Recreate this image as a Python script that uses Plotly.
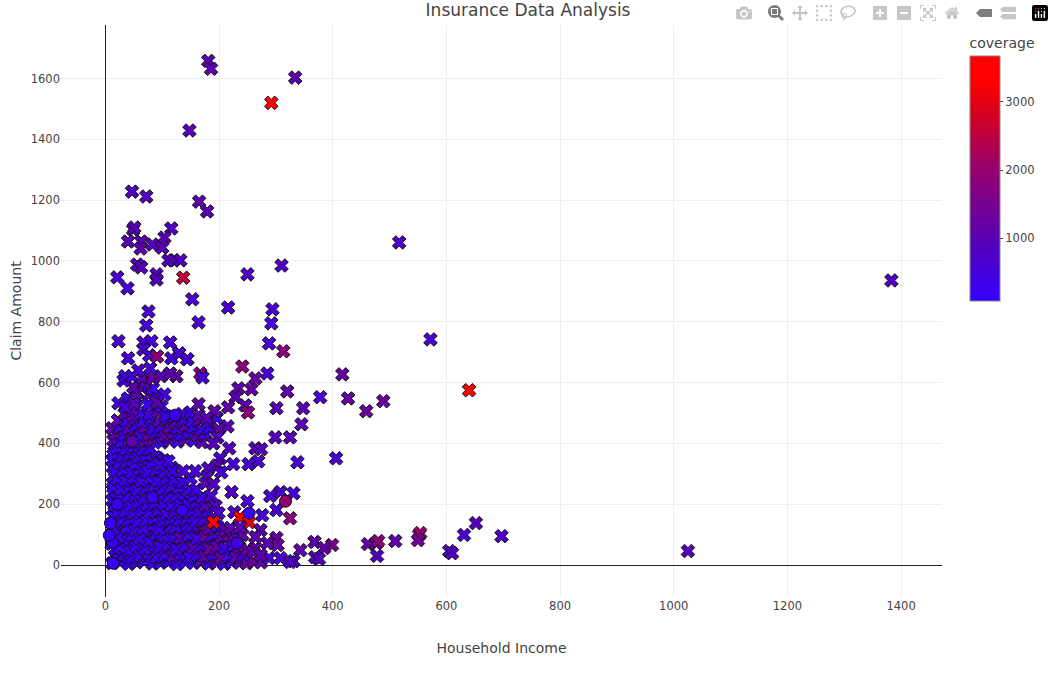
import plotly.graph_objects as go

# fraud = yes, drawn as x
income_x = [
    # fill of the dense corner
    20,34,48,62,77,91,105,120,134,149,
    163,177,191,205,218,30,44,59,73,88,
    102,116,131,145,160,174,188,11,24,38,
    52,67,81,95,109,124,138,153,167,181,
    195,13,27,41,56,70,84,98,113,127,
    141,156,170,184,198,16,31,45,60,74,
    88,103,117,132,146,161,175,189,13,26,
    40,55,69,84,98,113,127,142,156,170,
    21,36,50,65,79,94,108,122,137,151,
    12,26,41,55,70,84,99,113,128,142,
    157,19,33,48,62,77,91,106,120,135,
    149,13,27,42,56,71,85,100,114,129,
    24,38,53,67,82,96,13,27,42,56,
    71,85,100,19,34,48,63,77,92,16,
    30,45,59,74,88,103,52,84,117,12,
    # lower block
    12,26,41,55,68,83,97,112,126,141,
    155,168,182,196,209,222,236,248,261,274,
    18,33,47,61,76,90,104,119,133,148,
    162,175,189,203,216,230,243,17,39,82,
    25,54,69,96,110,125,140,154,169,183,
    197,210,224,236,250,264,13,31,75,118,
    22,46,60,89,103,132,146,161,176,190,
    204,218,232,15,37,52,80,111,139,168,
    66,95,124,153,182,197,211,28,43,57,
    72,86,101,115,130,144,159,173,188,20,
    35,49,64,78,93,107,122,136,151,165,
    180,16,30,44,58,73,87,102,116,131,
    145,160,175,24,39,53,68,82,97,111,
    126,140,155,170,14,28,43,57,72,86,
    101,115,130,145,160,20,35,49,63,78,
    92,107,121,136,150,17,31,46,60,75,
    89,104,118,24,38,53,67,82,96,111,
    14,29,43,58,72,20,36,50,65,79,
    # upper block
    14,28,42,56,70,85,99,113,127,141,
    156,170,18,33,47,61,76,90,104,119,
    133,148,162,176,12,26,40,54,68,83,
    97,111,126,140,155,169,183,22,37,51,
    65,80,94,108,123,137,152,166,180,34,
    48,63,77,92,106,121,135,150,164,196,
    56,77,62,40,84,69,90,75,47,99,
    23,35,51,91,104,55,49,32,35,47,
    # sparse points
    65,83,98,58,79,125,130,144,116,114,
    181,186,334,292,148,165,179,47,72,517,
    49,51,116,40,63,62,83,104,100,111,
    120,132,56,63,90,90,21,39,137,250,
    310,153,76,72,164,216,294,292,23,67,
    81,114,288,313,67,77,91,130,144,40,
    241,264,285,417,167,171,572,234,257,320,
    378,427,229,301,348,216,246,251,192,164,
    178,345,215,199,299,325,197,190,218,264,
    274,406,338,269,252,225,202,197,204,181,
    179,176,190,158,137,222,186,290,308,331,
    250,194,199,301,276,325,227,190,237,253,
    399,368,385,369,376,343,301,303,285,331,
    325,288,308,273,264,241,220,237,260,273,
    478,462,477,480,510,552,554,550,605,610,
    631,652,697,1025,1383,640,459,489,
]
claim_x = [
    18,20,16,22,19,17,21,15,20,18,
    19,16,21,17,20,42,44,40,46,41,
    43,45,40,46,41,44,42,70,72,75,
    71,74,70,76,72,75,69,73,77,71,
    74,105,108,103,110,106,101,109,104,107,
    102,110,105,108,103,133,137,130,135,139,
    132,136,131,138,134,129,137,133,160,163,
    158,162,165,159,164,157,161,166,160,163,
    188,186,190,185,189,187,184,191,186,188,
    213,216,211,218,214,210,217,212,215,213,
    210,240,243,238,245,241,237,244,239,242,
    238,268,265,270,263,269,266,271,264,267,
    295,298,293,300,296,292,322,325,320,327,
    323,319,326,350,347,352,345,349,351,372,
    370,374,368,373,355,345,385,335,320,345,
    6,11,4,9,14,5,8,12,3,10,
    7,13,5,9,4,11,8,6,12,9,
    28,34,24,31,37,26,33,29,36,25,
    32,27,35,24,30,26,34,52,48,55,
    58,62,53,60,66,51,63,57,64,52,
    60,55,63,58,50,56,80,84,78,88,
    92,96,88,102,94,90,98,87,95,100,
    93,97,90,118,122,115,126,119,124,128,
    120,117,125,130,118,127,114,146,150,142,
    148,153,144,151,147,155,143,149,152,172,
    176,170,178,173,180,168,175,171,179,174,
    177,198,202,195,205,197,204,200,196,203,
    199,206,194,228,224,232,221,230,226,223,
    229,233,225,222,255,250,258,247,253,260,
    249,256,252,245,248,282,278,286,275,284,
    277,283,280,272,285,308,312,304,315,306,
    311,305,309,335,340,332,343,337,330,341,
    362,358,365,355,360,385,380,388,378,383,
    410,405,412,402,408,415,403,410,406,413,
    409,404,432,428,435,425,430,437,426,433,
    429,436,427,431,450,455,448,458,452,447,
    456,451,449,457,453,446,452,476,472,480,
    470,478,474,481,469,477,473,479,471,498,
    492,500,495,505,490,488,497,502,493,484,
    545,560,590,548,580,600,545,528,510,522,
    532,519,532,535,561,565,585,607,621,621,
    617,614,621,640,647,621,696,677,680,630,
    1658,1632,1603,1520,1429,1195,1163,1228,1212,1061,
    1103,1110,1107,1064,1064,1041,1054,1077,1044,1002,
    1002,1002,988,979,956,939,946,910,945,956,
    985,874,834,788,798,847,841,795,736,732,
    736,732,729,703,709,690,686,696,677,680,
    653,614,630,627,630,617,742,581,578,571,
    552,548,552,516,516,519,525,502,506,529,
    483,463,456,447,420,420,420,400,384,384,
    381,351,338,341,332,332,351,328,305,318,
    289,269,266,309,309,240,227,227,240,236,
    210,194,171,181,164,154,174,141,157,141,
    66,76,56,26,20,49,89,66,72,13,
    10,23,23,115,92,99,122,125,43,33,
    30,69,72,79,79,99,105,82,46,39,
    99,138,95,46,936,575,506,539,
]
coverage_x = [
    210,280,190,340,250,300,220,380,260,310,
    240,330,200,290,360,230,270,320,190,350,
    260,220,310,280,400,340,520,180,240,210,
    300,260,340,220,280,350,240,410,310,620,
    480,170,230,260,200,310,240,280,330,220,
    290,360,420,560,480,190,250,220,300,260,
    330,240,280,350,300,420,520,640,180,230,
    270,210,300,240,330,260,290,340,380,460,
    200,250,310,230,280,220,330,260,300,360,
    180,230,280,210,260,320,240,300,270,340,
    390,200,250,220,310,270,230,340,280,300,
    360,180,240,290,220,260,310,230,280,340,
    210,260,230,300,250,320,190,240,280,220,
    300,260,340,200,250,310,230,280,330,210,
    240,290,220,270,320,380,250,300,360,190,
    180,260,220,300,240,340,280,210,320,260,
    300,880,240,1050,360,420,1000,1180,1240,1080,
    200,250,310,260,230,280,340,880,260,320,
    380,1060,300,1200,360,920,470,190,240,300,
    210,260,310,300,360,300,430,900,340,1280,
    1020,280,380,1120,1240,1150,180,230,300,280,
    240,290,300,270,350,850,310,400,1240,340,
    1000,1180,560,190,250,290,360,300,270,1260,
    320,270,400,300,1100,360,960,230,290,220,
    270,300,320,240,340,290,380,400,1140,200,
    240,300,280,260,340,320,360,900,310,420,
    420,210,260,310,240,290,340,350,270,300,
    360,380,900,220,270,320,300,250,350,300,
    320,350,310,380,190,240,290,270,340,300,
    260,360,300,420,360,210,270,310,360,260,
    300,320,270,350,360,190,240,290,260,300,
    310,360,300,240,270,320,320,260,360,300,
    210,260,310,240,290,240,300,300,260,380,
    900,300,1100,360,960,1120,340,900,280,1140,
    340,1020,1000,320,1040,280,1120,300,1080,960,
    300,360,1080,340,1080,300,960,320,1040,320,
    340,980,300,1100,300,380,340,1000,320,920,
    320,360,1040,300,980,320,320,1020,340,960,
    1020,300,360,1080,310,300,340,320,1020,340,
    360,1020,340,320,340,860,360,300,900,320,
    500,540,900,980,480,920,1020,440,540,460,
    940,1220,980,600,500,1040,420,540,500,980,
    1020,1020,1020,3650,920,1020,1040,820,870,720,
    920,920,770,970,980,1040,840,920,980,820,
    870,820,920,900,870,840,620,600,2550,770,
    700,640,580,560,620,600,580,550,590,570,
    550,580,540,1800,620,580,1900,520,550,580,
    1800,1220,540,1220,1700,500,610,1120,1170,1070,
    600,1220,1020,1020,970,1070,1020,1750,1070,1020,
    970,920,920,1070,920,970,820,870,820,920,
    870,560,600,620,580,600,620,920,600,820,
    720,970,870,580,600,840,620,580,600,550,
    580,720,620,600,580,1800,720,3300,3650,3000,
    1550,1020,1170,820,870,1070,1120,1220,1020,720,
    720,600,620,1020,1070,1220,1020,920,1120,1020,
    820,1170,1270,1850,1070,1950,2050,1370,720,820,
    580,870,720,870,770,3670,1320,1270,
]

# fraud = no, drawn as circle
income_o = [123, 47, 21, 9, 12, 14, 83, 317, 253, 232, 7, 135]
claim_o = [493, 407, 200, 138, 75, 6, 223, 210, 171, 72, 98, 180]
coverage_o = [220, 1000, 200, 220, 180, 200, 300, 1950, 200, 420, 220, 250]

cover_scale = [[0, "#3300ff"], [0.26, "#5a00b0"], [0.54, "#96006e"], [0.8, "#e00012"], [0.9, "#ff0000"], [1, "#ff0000"]]

fig = go.Figure()
fig.add_trace(go.Scatter(x=income_x, y=claim_x, mode="markers", name="Yes",
                         marker=dict(symbol="x", size=12, color=coverage_x, coloraxis="coloraxis",
                                     line=dict(width=1, color="#111111"))))
fig.add_trace(go.Scatter(x=income_o, y=claim_o, mode="markers", name="No",
                         marker=dict(symbol="circle", size=12, color=coverage_o, coloraxis="coloraxis",
                                     line=dict(width=1, color="#111111"))))

fig.update_layout(
    template="plotly_white",
    width=1054, height=698,
    margin=dict(l=61, r=112, t=25, b=101, autoexpand=False),
    font=dict(family="DejaVu Sans", size=12, color="#444"),
    title=dict(text="Insurance Data Analysis", x=0.501, y=0.986, yanchor="middle", xanchor="center", font=dict(size=17)),
    showlegend=False,
    coloraxis=dict(colorscale=cover_scale, cmin=74, cmax=3676,
                   colorbar=dict(title=dict(text="coverage", font=dict(size=14)), thickness=30, len=0.5,
                                 y=1, yanchor="top", x=1.0205, xanchor="left",
                                 outlinecolor="#888", outlinewidth=1, ticks="outside", ticklen=3,
                                 tickcolor="#444", tickvals=[1000, 2000, 3000], tickfont_size=11.5)),
)
fig.update_xaxes(title=dict(text="Household Income", standoff=31, font_size=14), automargin=False,
                 range=[-78, 1472], tick0=0, dtick=200, gridcolor="#eeeeee", tickfont_size=11.5,
                 zeroline=True, zerolinecolor="#222", zerolinewidth=1)
fig.update_yaxes(title=dict(text="Claim Amount", standoff=5, font_size=14), automargin=False,
                 range=[-105, 1776], tick0=0, dtick=200, gridcolor="#eeeeee", tickfont_size=11.5,
                 zeroline=True, zerolinecolor="#222", zerolinewidth=1)

print(len(income_x), len(claim_x), len(coverage_x))
fig.write_html("out.html", config=dict(
    displayModeBar=True,
    modeBarButtonsToAdd=["hoverclosest", "hovercompare"],
    displaylogo=True), post_script="document.body.style.margin='0';")
